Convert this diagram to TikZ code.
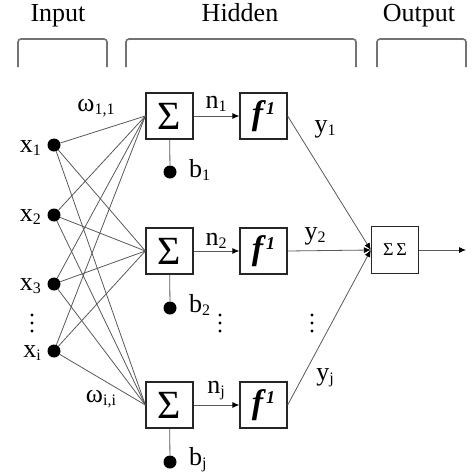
\documentclass[tikz,border=0pt]{standalone}
\usepackage{fontspec}
\setmainfont{Liberation Serif}
\usetikzlibrary{arrows.meta}
\newcommand{\lsb}[1]{\raisebox{-3pt}{\fontsize{16}{16}\selectfont #1}}
\newcommand{\fone}{\fontsize{34}{34}\selectfont\bfseries\itshape f\hspace{3pt}\raisebox{10pt}{\fontsize{18}{18}\selectfont 1}}
\begin{document}
\begin{tikzpicture}[x=1pt,y=-1pt,
 lbl/.style={font=\fontsize{26}{26}\selectfont, inner sep=0pt, anchor=base},
 box/.style={draw=black!85, line width=1.3pt, minimum width=47pt, minimum height=46pt, inner sep=0pt},
 dot/.style={circle, fill=black, minimum size=13pt, inner sep=0pt},
 wire/.style={draw=black!65, line width=0.8pt},
 arr/.style={wire, -{Latex[length=7pt,width=6pt,color=black]}},
 brk/.style={draw=black!55, line width=1.6pt, rounded corners=3pt},
 vdot/.style={circle, fill=black, minimum size=3.4pt, inner sep=0pt}]
\useasboundingbox (0,0) rectangle (474,474);

% titles
\node[lbl] (tin) at (58,21) {Input};
\node[lbl] (thid) at (240,21) {Hidden};
\node[lbl] (tout) at (419,21) {Output};

% brackets
\draw[brk] (18,67) |- (62,39) -| (107,67);
\draw[brk] (126,67) |- (240,39) -| (356,67);
\draw[brk] (377,67) |- (420,39) -| (466,67);

% input dots
\node[dot] (i1) at (54,145) {};
\node[dot] (i2) at (54,215) {};
\node[dot] (i3) at (54,284) {};
\node[dot] (i4) at (54,351) {};
\node[lbl, anchor=base east] (lx1) at (41,152) {x\lsb{1}};
\node[lbl, anchor=base east] (lx2) at (41,221) {x\lsb{2}};
\node[lbl, anchor=base east] (lx3) at (41,290) {x\lsb{3}};
\node[lbl, anchor=base east] (lx4) at (41,357) {x\lsb{i}};

% sum boxes
\node[box, font=\fontsize{40}{40}\selectfont] (s1) at (169.5,116) {Σ};
\node[box, font=\fontsize{40}{40}\selectfont] (s2) at (169.5,251) {Σ};
\node[box, font=\fontsize{40}{40}\selectfont] (s3) at (169.5,405) {Σ};

% f boxes
\node[box] (f1) at (263.5,116) {\fone};
\node[box] (f2) at (263.5,251) {\fone};
\node[box] (f3) at (263.5,405) {\fone};

% output box
\node[box, minimum height=47pt, font=\fontsize{18}{18}\selectfont] (o) at (395,250) {Σ\,Σ};
\coordinate (oend) at (466,250);

% bias dots
\node[dot] (b1) at (170,172) {};
\node[dot] (b2) at (170,308) {};
\node[dot] (b3) at (170,462) {};
\draw[wire] (s1) -- (b1);
\draw[wire] (s2) -- (b2);
\draw[wire] (s3) -- (b3);
\node[lbl, anchor=base west] (lb1) at (189,177) {b\lsb{1}};
\node[lbl, anchor=base west] (lb2) at (189,312) {b\lsb{2}};
\node[lbl, anchor=base west] (lb3) at (189,465) {b\lsb{j}};

% input wires
\foreach \i in {1,2,3,4}{
  \foreach \s in {1,2,3}{
    \draw[wire] (i\i) -- (s\s.west);
  }
}
\node[lbl] (w11) at (96,111) {ω\lsb{1,1}};
\node[lbl] (wii) at (101,402) {ω\lsb{i,i}};

% n arrows
\draw[arr] (s1) -- (f1);
\draw[arr] (s2) -- (f2);
\draw[arr] (s3) -- (f3);
\node[lbl] (ln1) at (216,108) {n\lsb{1}};
\node[lbl] (ln2) at (216,245) {n\lsb{2}};
\node[lbl] (ln3) at (216,393) {n\lsb{j}};

% y arrows
\draw[arr] (f1.east) -- (o.west);
\draw[arr] (f2.east) -- (o.west);
\draw[arr] (f3.east) -- (o.west);
\draw[arr] (o) -- (oend);
\node[lbl] (ly1) at (325,132) {y\lsb{1}};
\node[lbl] (ly2) at (315,239) {y\lsb{2}};
\node[lbl] (ly3) at (325,380) {y\lsb{j}};

% vertical ellipses
\foreach \xx in {32,220,312}{
  \foreach \yy in {315,323,331}{
    \node[vdot] at (\xx,\yy) {};
  }
}
\end{tikzpicture}
\end{document}
